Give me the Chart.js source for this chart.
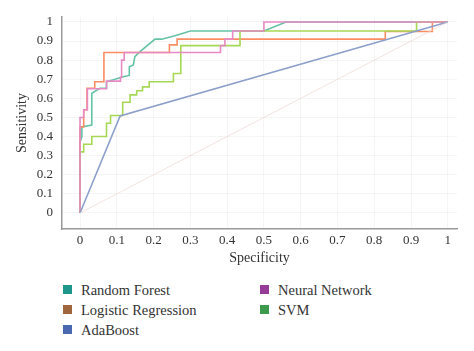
<!DOCTYPE html>
<html>
<head>
    <meta charset="UTF-8">
    <title>ROC curves</title>
    <style>
        body {
            margin: 0;
            background: #fff;
            font-family: 'Liberation Serif', 'Times New Roman', serif;
        }
        .wrap {
            position: relative;
            width: 474px;
            height: 351px;
        }
        .chart-box {
            position: absolute;
            left: 0;
            top: 0;
            width: 474px;
            height: 272px;
        }
        .legend {
            position: absolute;
            left: 0;
            top: 280px;
            width: 474px;
            font-size: 14.5px;
            color: #333;
        }
        .legend .item {
            position: absolute;
            height: 20px;
            line-height: 20px;
            white-space: nowrap;
        }
        .legend .sw {
            position: absolute;
            left: 0;
            top: 5px;
            width: 9px;
            height: 9px;
        }
        .legend .txt {
            position: absolute;
            left: 18px;
            top: 0;
        }
    </style>
    <script src="https://cdn.jsdelivr.net/npm/chart.js@4.4.0/dist/chart.umd.min.js"></script>
</head>
<body>
<div class="wrap">
    <div class="chart-box"><canvas id="roc"></canvas></div>
    <div class="legend" id="legend"></div>
</div>
<script>
    // tick values for both axes
    const tickVals = [0, 0.1, 0.2, 0.3, 0.4, 0.5, 0.6, 0.7, 0.8, 0.9, 1];

    const models = ["Random Forest", "Logistic Regression", "AdaBoost", "Neural Network", "SVM"];
    const lineColors = ["#66c2a5", "#fc8d62", "#8da0cb", "#e78ac3", "#a6d854"];
    const legendColors = ["#1f968b", "#a0673f", "#4a68b0", "#973b98", "#3d9a4c"];

    // Random Forest
    const rfX = [0, 0, 0.005, 0.005, 0.032, 0.032, 0.054, 0.072, 0.072, 0.104, 0.12, 0.134, 0.134, 0.145, 0.149, 0.163, 0.204, 0.222, 0.258, 0.3, 0.5, 0.56, 1];
    const rfY = [0, 0.37, 0.40, 0.45, 0.46, 0.627, 0.653, 0.653, 0.687, 0.705, 0.714, 0.72, 0.766, 0.775, 0.818, 0.845, 0.91, 0.91, 0.928, 0.953, 0.953, 1, 1];

    // Logistic Regression
    const lrX = [0, 0, 0.01, 0.01, 0.019, 0.019, 0.04, 0.04, 0.065, 0.065, 0.243, 0.243, 0.264, 0.264, 0.83, 0.83, 0.958, 0.958, 1];
    const lrY = [0, 0.45, 0.45, 0.54, 0.54, 0.653, 0.653, 0.687, 0.687, 0.84, 0.84, 0.88, 0.88, 0.91, 0.91, 0.95, 0.95, 1, 1];

    // AdaBoost
    const abX = [0, 0.109, 1];
    const abY = [0, 0.508, 1];

    // Neural Network
    const nnX = [0, 0, 0.01, 0.01, 0.02, 0.02, 0.036, 0.036, 0.072, 0.072, 0.11, 0.11, 0.113, 0.113, 0.12, 0.12, 0.382, 0.382, 0.394, 0.394, 0.415, 0.415, 0.5, 0.5, 1];
    const nnY = [0, 0.50, 0.50, 0.54, 0.54, 0.65, 0.65, 0.65, 0.65, 0.69, 0.69, 0.71, 0.71, 0.80, 0.80, 0.84, 0.84, 0.876, 0.876, 0.91, 0.91, 0.953, 0.953, 1, 1];

    // SVM
    const svmX = [0, 0, 0.01, 0.01, 0.032, 0.032, 0.072, 0.072, 0.083, 0.083, 0.116, 0.116, 0.136, 0.136, 0.154, 0.154, 0.17, 0.17, 0.188, 0.188, 0.254, 0.254, 0.274, 0.274, 0.435, 0.435, 0.915, 0.915, 1];
    const svmY = [0, 0.32, 0.32, 0.36, 0.36, 0.40, 0.40, 0.47, 0.47, 0.51, 0.51, 0.58, 0.58, 0.618, 0.618, 0.64, 0.64, 0.66, 0.66, 0.687, 0.687, 0.73, 0.73, 0.876, 0.876, 0.953, 0.953, 1, 1];

    // chance line
    const diagX = [0, 1];
    const diagY = [0, 1];

    function pts(xs, ys) {
        return xs.map((x, i) => ({x: x, y: ys[i]}));
    }

    const series = [pts(rfX, rfY), pts(lrX, lrY), pts(abX, abY), pts(nnX, nnY), pts(svmX, svmY)];

    const datasets = [{
        label: "diag",
        data: pts(diagX, diagY),
        borderColor: "rgba(235,215,210,0.7)",
        borderWidth: 1
    }];
    // draw order: AdaBoost, Neural Network, SVM, Logistic Regression, Random Forest
    [2, 3, 4, 1, 0].forEach(i => {
        datasets.push({
            label: models[i],
            data: series[i],
            borderColor: lineColors[i],
            borderWidth: 1.6
        });
    });

    Chart.defaults.font.family = "'Liberation Serif', 'Times New Roman', serif";
    Chart.defaults.color = "#333";

    function fixTicks(axis) {
        axis.ticks = tickVals.map(v => ({value: v}));
    }

    new Chart("roc", {
        type: "scatter",
        data: {datasets: datasets},
        options: {
            responsive: true,
            maintainAspectRatio: false,
            animation: false,
            showLine: true,
            elements: {
                point: {radius: 0, hoverRadius: 0},
                line: {tension: 0, fill: false}
            },
            layout: {padding: {left: 14, right: 17, top: 17, bottom: 5}},
            plugins: {
                legend: {display: false},
                tooltip: {enabled: false}
            },
            scales: {
                x: {
                    type: "linear",
                    min: -0.049,
                    max: 1.025,
                    afterBuildTicks: fixTicks,
                    afterFit: (axis) => { axis.height = 38; },
                    grid: {color: "rgba(0,0,0,0.04)", drawTicks: false},
                    border: {color: "#9a9a9a", width: 1.5},
                    ticks: {
                        padding: 4,
                        font: {size: 13},
                        callback: v => String(Math.round(v * 10) / 10)
                    },
                    title: {
                        display: true,
                        text: "Specificity",
                        font: {size: 14},
                        padding: {top: 0, bottom: 0}
                    }
                },
                y: {
                    type: "linear",
                    min: -0.084,
                    max: 1.026,
                    afterBuildTicks: fixTicks,
                    afterFit: (axis) => { axis.width = 48; },
                    grid: {color: "rgba(0,0,0,0.04)", drawTicks: false},
                    border: {color: "#9a9a9a", width: 1.5},
                    ticks: {
                        padding: 9,
                        font: {size: 13},
                        callback: v => String(Math.round(v * 10) / 10)
                    },
                    title: {
                        display: true,
                        text: "Sensitivity",
                        font: {size: 14},
                        padding: {top: 0, bottom: 0}
                    }
                }
            }
        }
    });

    // legend in two columns, order as in the figure
    const legendPos = [[63, 0], [63, 20], [63, 40], [260, 0], [260, 20]];
    const leg = document.getElementById("legend");
    models.forEach((m, i) => {
        const d = document.createElement("div");
        d.className = "item";
        d.style.left = legendPos[i][0] + "px";
        d.style.top = legendPos[i][1] + "px";
        d.innerHTML = '<span class="sw" style="background:' + legendColors[i] + '"></span><span class="txt">' + m + '</span>';
        leg.appendChild(d);
    });
</script>
</body>
</html>
